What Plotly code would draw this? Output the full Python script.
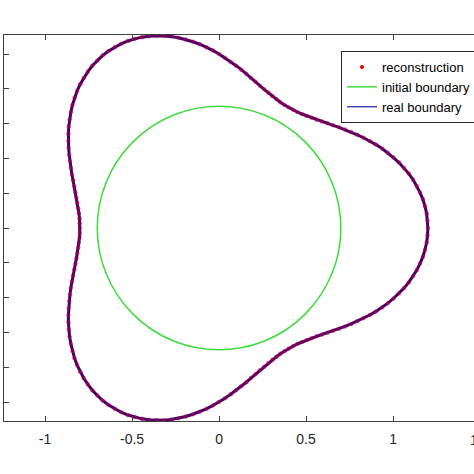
import numpy as np
import plotly.graph_objects as go

# ---- data ----
# radius of the real boundary at polar angles 0, 2, 4, ..., 358 degrees
REAL_BOUNDARY_R = [
    1.200, 1.199, 1.196, 1.190, 1.183, 1.173, 1.162, 1.149, 1.134, 1.118,
    1.100, 1.081, 1.062, 1.042, 1.021, 1.000, 0.979, 0.958, 0.938, 0.919,
    0.900, 0.882, 0.866, 0.851, 0.838, 0.827, 0.817, 0.810, 0.804, 0.801,
    0.800, 0.801, 0.804, 0.810, 0.817, 0.827, 0.838, 0.851, 0.866, 0.882,
    0.900, 0.919, 0.938, 0.958, 0.979, 1.000, 1.021, 1.042, 1.062, 1.081,
    1.100, 1.118, 1.134, 1.149, 1.162, 1.173, 1.183, 1.190, 1.196, 1.199,
    1.200, 1.199, 1.196, 1.190, 1.183, 1.173, 1.162, 1.149, 1.134, 1.118,
    1.100, 1.081, 1.062, 1.042, 1.021, 1.000, 0.979, 0.958, 0.938, 0.919,
    0.900, 0.882, 0.866, 0.851, 0.838, 0.827, 0.817, 0.810, 0.804, 0.801,
    0.800, 0.801, 0.804, 0.810, 0.817, 0.827, 0.838, 0.851, 0.866, 0.882,
    0.900, 0.919, 0.938, 0.958, 0.979, 1.000, 1.021, 1.042, 1.062, 1.081,
    1.100, 1.118, 1.134, 1.149, 1.162, 1.173, 1.183, 1.190, 1.196, 1.199,
    1.200, 1.199, 1.196, 1.190, 1.183, 1.173, 1.162, 1.149, 1.134, 1.118,
    1.100, 1.081, 1.062, 1.042, 1.021, 1.000, 0.979, 0.958, 0.938, 0.919,
    0.900, 0.882, 0.866, 0.851, 0.838, 0.827, 0.817, 0.810, 0.804, 0.801,
    0.800, 0.801, 0.804, 0.810, 0.817, 0.827, 0.838, 0.851, 0.866, 0.882,
    0.900, 0.919, 0.938, 0.958, 0.979, 1.000, 1.021, 1.042, 1.062, 1.081,
    1.100, 1.118, 1.134, 1.149, 1.162, 1.173, 1.183, 1.190, 1.196, 1.199,
]
BOUNDARY_ANGLE_DEG = list(range(0, 360, 2))
# reconstruction coincides with the real boundary in the picture
RECONSTRUCTION_R = list(REAL_BOUNDARY_R)
INITIAL_RADIUS = 0.7

X_TICKS = [-1, -0.5, 0, 0.5, 1]
X_TICK_LABELS = ["-1", "-0.5", "0", "0.5", "1"]
EDGE_TICK = 1.5
EDGE_TICK_LABEL = "1.5"
Y_TICKS = [-1, -0.8, -0.6, -0.4, -0.2, 0, 0.2, 0.4, 0.6, 0.8, 1]

SERIES_NAMES = ["reconstruction", "initial boundary", "real boundary"]

# ---- geometry ----
ang = np.deg2rad(BOUNDARY_ANGLE_DEG + [BOUNDARY_ANGLE_DEG[0]])
r_real = np.array(REAL_BOUNDARY_R + [REAL_BOUNDARY_R[0]])
real_x, real_y = r_real * np.cos(ang), r_real * np.sin(ang)
ang_rec = np.deg2rad(BOUNDARY_ANGLE_DEG)
r_rec = np.array(RECONSTRUCTION_R)
rec_x, rec_y = r_rec * np.cos(ang_rec), r_rec * np.sin(ang_rec)

AXIS_COLOR = "#404040"
TEXT_COLOR = "#262626"
FONT = "Liberation Sans, Arial, sans-serif"
RED = "#e00000"
GREEN = "#3ddc3d"
BLUE = "#1c1ca8"

fig = go.Figure()
# drawn marks
fig.add_trace(go.Scatter(
    x=real_x, y=real_y, mode="lines", name=SERIES_NAMES[2],
    line=dict(color="#40006a", width=3), showlegend=False,
))
fig.add_trace(go.Scatter(
    x=rec_x, y=rec_y, mode="markers", name=SERIES_NAMES[0],
    marker=dict(color="rgba(175,0,70,0.55)", size=4.5, line=dict(width=0)),
    showlegend=False,
))
fig.add_shape(
    type="circle", xref="x", yref="y",
    x0=-INITIAL_RADIUS, x1=INITIAL_RADIUS, y0=-INITIAL_RADIUS, y1=INITIAL_RADIUS,
    line=dict(color=GREEN, width=1.5), layer="below",
)
# legend entries
fig.add_trace(go.Scatter(x=[None], y=[None], mode="markers", name=SERIES_NAMES[0],
                         marker=dict(color=RED, size=4)))
fig.add_trace(go.Scatter(x=[None], y=[None], mode="lines", name=SERIES_NAMES[1],
                         line=dict(color=GREEN, width=1.5)))
fig.add_trace(go.Scatter(x=[None], y=[None], mode="lines", name=SERIES_NAMES[2],
                         line=dict(color=BLUE, width=1.2)))

PX_PER_UNIT = 174.0
L, R, T, B = 4, 0, 35, 53
W = H = 474
x_left = -1.236
x_right = x_left + (W - L - R) / PX_PER_UNIT
y_half = (H - T - B) / PX_PER_UNIT / 2

fig.update_layout(
    width=W, height=H,
    margin=dict(l=L, r=R, t=T, b=B, autoexpand=False),
    paper_bgcolor="white", plot_bgcolor="white",
    font=dict(family=FONT, color=TEXT_COLOR, size=14),
    legend=dict(
        x=(341 - L) / (W - L - R), y=(H - B - 51) / (H - T - B),
        xanchor="left", yanchor="top",
        bgcolor="white", bordercolor=TEXT_COLOR, borderwidth=1,
        font=dict(family=FONT, size=13, color="black"),
        tracegroupgap=0,
    ),
    xaxis=dict(
        range=[x_left, x_right], tickvals=X_TICKS, ticktext=X_TICK_LABELS,
        ticks="inside", ticklen=5, tickcolor=AXIS_COLOR,
        showline=True, linecolor=AXIS_COLOR, linewidth=1, mirror="ticks",
        showgrid=False, zeroline=False, automargin=False,
        tickfont=dict(family=FONT, size=14, color=TEXT_COLOR),
        ticklabelstandoff=5,
    ),
    yaxis=dict(
        range=[-y_half, y_half], tickvals=Y_TICKS, showticklabels=False,
        ticks="inside", ticklen=5, tickcolor=AXIS_COLOR,
        showline=True, linecolor=AXIS_COLOR, linewidth=1,
        showgrid=False, zeroline=False, automargin=False,
    ),
)

# the 1.5 tick label sits mostly outside the visible page, as in the reference
fig.add_annotation(
    x=(EDGE_TICK - x_left) / (x_right - x_left), xref="paper",
    y=0, yref="paper", text=EDGE_TICK_LABEL, showarrow=False,
    xanchor="center", yanchor="top", yshift=-9,
    font=dict(family=FONT, size=14, color=TEXT_COLOR),
)

fig.write_html(
    "out.html",
    config={"displayModeBar": False},
    post_script="document.body.style.margin='0px';document.body.style.overflow='hidden';",
)
